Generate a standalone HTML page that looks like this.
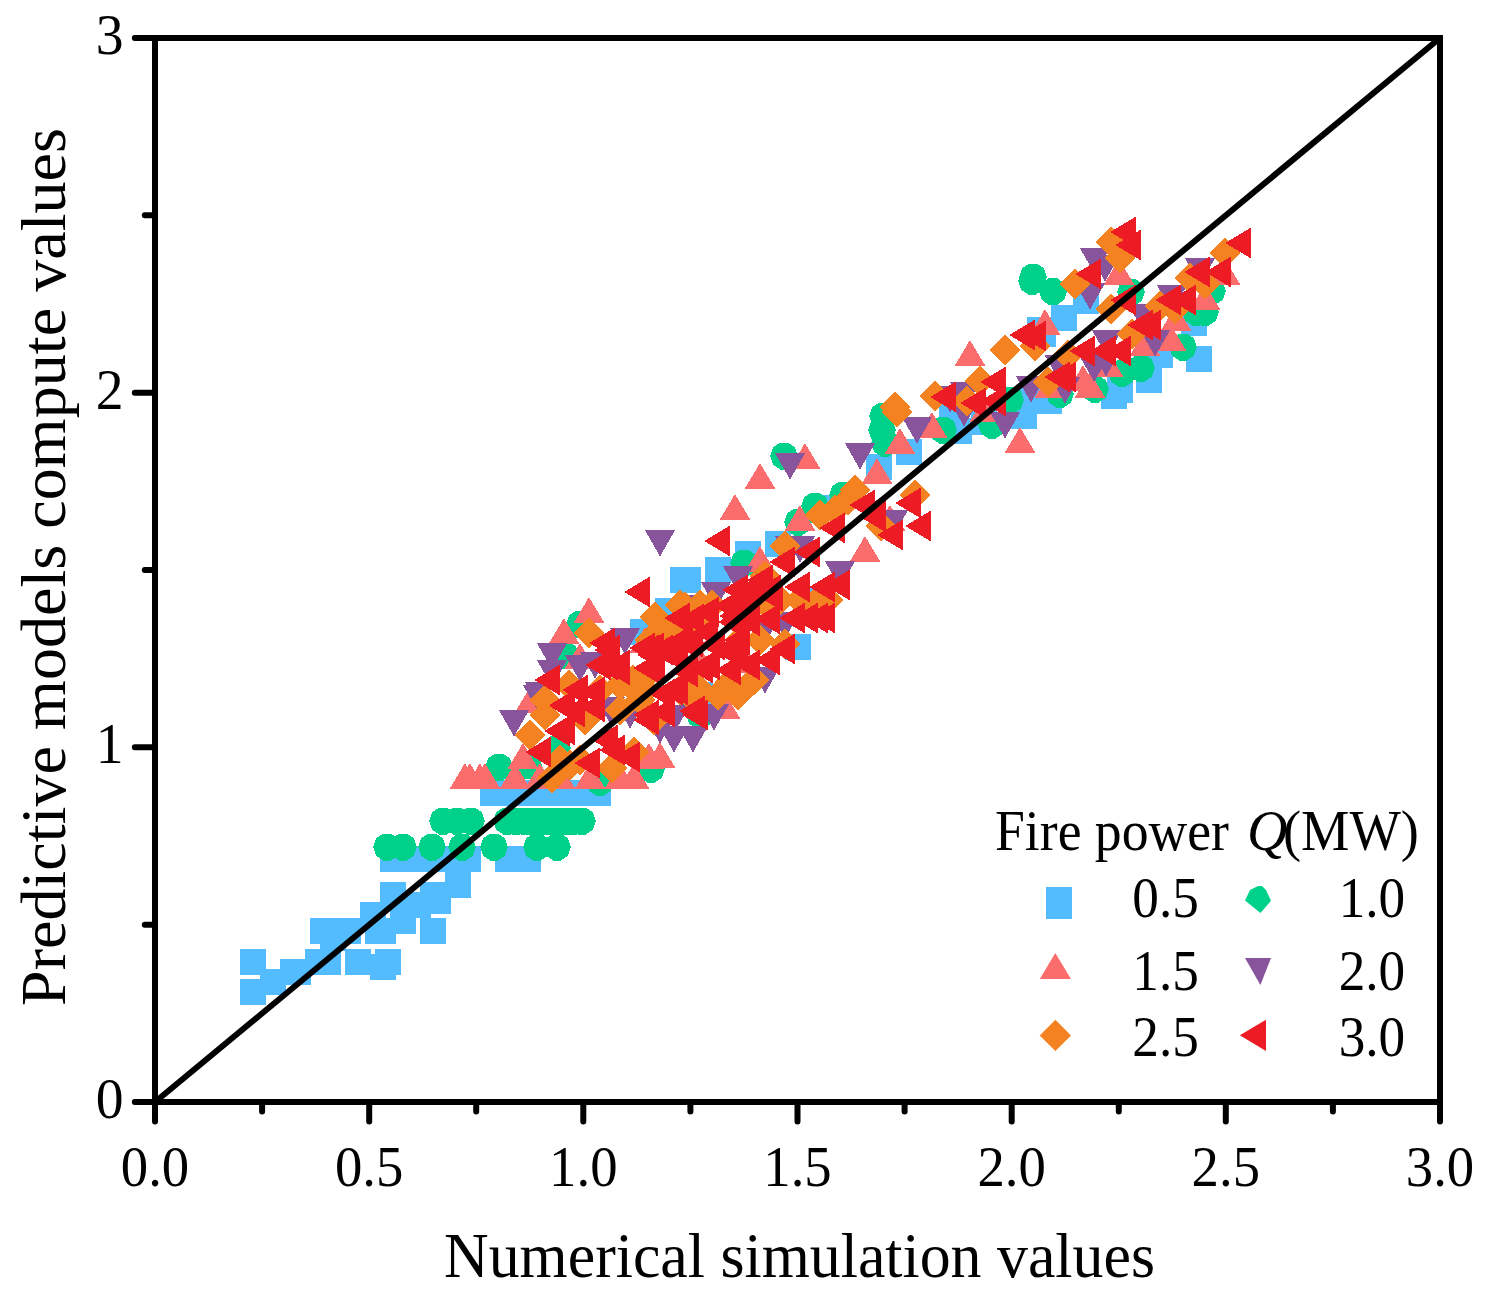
<!DOCTYPE html>
<html><head><meta charset="utf-8"><title>Chart</title>
<style>html,body{margin:0;padding:0;background:#fff;}svg{display:block;}
text{font-family:"Liberation Serif",serif;fill:#000;}</style></head>
<body><svg width="1492" height="1297" viewBox="0 0 1492 1297">
<rect width="1492" height="1297" fill="#fff"/>

<g fill="#52bcfe" shape-rendering="crispEdges">
<rect x="240.0" y="949.0" width="26" height="26"/>
<rect x="240.0" y="979.0" width="26" height="26"/>
<rect x="260.0" y="969.0" width="26" height="26"/>
<rect x="280.0" y="959.0" width="26" height="26"/>
<rect x="285.0" y="959.0" width="26" height="26"/>
<rect x="305.0" y="949.0" width="26" height="26"/>
<rect x="315.0" y="949.0" width="26" height="26"/>
<rect x="310.0" y="918.0" width="26" height="26"/>
<rect x="335.0" y="918.0" width="26" height="26"/>
<rect x="320.0" y="925.0" width="26" height="26"/>
<rect x="345.0" y="949.0" width="26" height="26"/>
<rect x="375.0" y="949.0" width="26" height="26"/>
<rect x="370.0" y="954.0" width="26" height="26"/>
<rect x="360.0" y="902.0" width="26" height="26"/>
<rect x="365.0" y="918.0" width="26" height="26"/>
<rect x="370.0" y="918.0" width="26" height="26"/>
<rect x="390.0" y="908.0" width="26" height="26"/>
<rect x="420.0" y="918.0" width="26" height="26"/>
<rect x="405.0" y="892.0" width="26" height="26"/>
<rect x="425.0" y="888.0" width="26" height="26"/>
<rect x="445.0" y="872.0" width="26" height="26"/>
<rect x="380.0" y="882.0" width="26" height="26"/>
<rect x="420.0" y="882.0" width="26" height="26"/>
<rect x="380.0" y="846.0" width="26" height="26"/>
<rect x="410.0" y="846.0" width="26" height="26"/>
<rect x="430.0" y="846.0" width="26" height="26"/>
<rect x="455.0" y="846.0" width="26" height="26"/>
<rect x="495.0" y="846.0" width="26" height="26"/>
<rect x="515.0" y="846.0" width="26" height="26"/>
<rect x="480.0" y="780.0" width="26" height="26"/>
<rect x="507.0" y="780.0" width="26" height="26"/>
<rect x="532.0" y="780.0" width="26" height="26"/>
<rect x="557.0" y="780.0" width="26" height="26"/>
<rect x="445.0" y="846.0" width="26" height="26"/>
<rect x="395.0" y="846.0" width="26" height="26"/>
<rect x="1073.0" y="288.0" width="26" height="26"/>
<rect x="1181.0" y="310.0" width="26" height="26"/>
<rect x="1186.0" y="346.0" width="26" height="26"/>
<rect x="1136.0" y="367.0" width="26" height="26"/>
<rect x="1147.0" y="342.0" width="26" height="26"/>
<rect x="1107.0" y="377.0" width="26" height="26"/>
<rect x="1051.0" y="305.0" width="26" height="26"/>
<rect x="1030.0" y="321.0" width="26" height="26"/>
<rect x="1027.0" y="317.0" width="26" height="26"/>
<rect x="1101.0" y="383.0" width="26" height="26"/>
<rect x="1016.0" y="388.0" width="26" height="26"/>
<rect x="1036.0" y="388.0" width="26" height="26"/>
<rect x="1011.0" y="403.0" width="26" height="26"/>
<rect x="939.0" y="392.0" width="26" height="26"/>
<rect x="946.0" y="418.0" width="26" height="26"/>
<rect x="971.0" y="409.0" width="26" height="26"/>
<rect x="896.0" y="439.0" width="26" height="26"/>
<rect x="866.0" y="454.0" width="26" height="26"/>
<rect x="735.0" y="541.0" width="26" height="26"/>
<rect x="765.0" y="531.0" width="26" height="26"/>
<rect x="705.0" y="557.0" width="26" height="26"/>
<rect x="670.0" y="567.0" width="26" height="26"/>
<rect x="675.0" y="567.0" width="26" height="26"/>
<rect x="810.0" y="495.0" width="26" height="26"/>
<rect x="799.0" y="597.0" width="26" height="26"/>
<rect x="785.0" y="634.0" width="26" height="26"/>
<rect x="809.0" y="587.0" width="26" height="26"/>
<rect x="687.0" y="682.0" width="26" height="26"/>
<rect x="655.0" y="598.0" width="26" height="26"/>
<rect x="630.0" y="619.0" width="26" height="26"/>
<rect x="572.0" y="780.0" width="26" height="26"/>
<rect x="585.0" y="780.0" width="26" height="26"/>
<rect x="493.0" y="780.0" width="26" height="26"/>
</g>
<g fill="#00d18a" shape-rendering="crispEdges">
<polygon points="383.0,833.5 391.0,833.5 398.0,838.5 401.0,847.0 398.0,855.5 391.0,860.5 383.0,860.5 376.0,855.5 373.0,847.0 376.0,838.5"/>
<polygon points="399.0,833.5 407.0,833.5 414.0,838.5 417.0,847.0 414.0,855.5 407.0,860.5 399.0,860.5 392.0,855.5 389.0,847.0 392.0,838.5"/>
<polygon points="428.0,833.5 436.0,833.5 443.0,838.5 446.0,847.0 443.0,855.5 436.0,860.5 428.0,860.5 421.0,855.5 418.0,847.0 421.0,838.5"/>
<polygon points="458.0,833.5 466.0,833.5 473.0,838.5 476.0,847.0 473.0,855.5 466.0,860.5 458.0,860.5 451.0,855.5 448.0,847.0 451.0,838.5"/>
<polygon points="490.0,833.5 498.0,833.5 505.0,838.5 508.0,847.0 505.0,855.5 498.0,860.5 490.0,860.5 483.0,855.5 480.0,847.0 483.0,838.5"/>
<polygon points="533.0,833.5 541.0,833.5 548.0,838.5 551.0,847.0 548.0,855.5 541.0,860.5 533.0,860.5 526.0,855.5 523.0,847.0 526.0,838.5"/>
<polygon points="553.0,833.5 561.0,833.5 568.0,838.5 571.0,847.0 568.0,855.5 561.0,860.5 553.0,860.5 546.0,855.5 543.0,847.0 546.0,838.5"/>
<polygon points="439.0,807.5 447.0,807.5 454.0,812.5 457.0,821.0 454.0,829.5 447.0,834.5 439.0,834.5 432.0,829.5 429.0,821.0 432.0,812.5"/>
<polygon points="467.0,807.5 475.0,807.5 482.0,812.5 485.0,821.0 482.0,829.5 475.0,834.5 467.0,834.5 460.0,829.5 457.0,821.0 460.0,812.5"/>
<polygon points="503.0,807.5 511.0,807.5 518.0,812.5 521.0,821.0 518.0,829.5 511.0,834.5 503.0,834.5 496.0,829.5 493.0,821.0 496.0,812.5"/>
<polygon points="521.0,807.5 529.0,807.5 536.0,812.5 539.0,821.0 536.0,829.5 529.0,834.5 521.0,834.5 514.0,829.5 511.0,821.0 514.0,812.5"/>
<polygon points="537.0,807.5 545.0,807.5 552.0,812.5 555.0,821.0 552.0,829.5 545.0,834.5 537.0,834.5 530.0,829.5 527.0,821.0 530.0,812.5"/>
<polygon points="553.0,807.5 561.0,807.5 568.0,812.5 571.0,821.0 568.0,829.5 561.0,834.5 553.0,834.5 546.0,829.5 543.0,821.0 546.0,812.5"/>
<polygon points="495.0,753.5 503.0,753.5 510.0,758.5 513.0,767.0 510.0,775.5 503.0,780.5 495.0,780.5 488.0,775.5 485.0,767.0 488.0,758.5"/>
<polygon points="524.0,751.5 532.0,751.5 539.0,756.5 542.0,765.0 539.0,773.5 532.0,778.5 524.0,778.5 517.0,773.5 514.0,765.0 517.0,756.5"/>
<polygon points="553.0,734.5 561.0,734.5 568.0,739.5 571.0,748.0 568.0,756.5 561.0,761.5 553.0,761.5 546.0,756.5 543.0,748.0 546.0,739.5"/>
<polygon points="453.0,807.5 461.0,807.5 468.0,812.5 471.0,821.0 468.0,829.5 461.0,834.5 453.0,834.5 446.0,829.5 443.0,821.0 446.0,812.5"/>
<polygon points="1127.0,278.5 1135.0,278.5 1142.0,283.5 1145.0,292.0 1142.0,300.5 1135.0,305.5 1127.0,305.5 1120.0,300.5 1117.0,292.0 1120.0,283.5"/>
<polygon points="1208.0,277.5 1216.0,277.5 1223.0,282.5 1226.0,291.0 1223.0,299.5 1216.0,304.5 1208.0,304.5 1201.0,299.5 1198.0,291.0 1201.0,282.5"/>
<polygon points="1192.0,298.5 1200.0,298.5 1207.0,303.5 1210.0,312.0 1207.0,320.5 1200.0,325.5 1192.0,325.5 1185.0,320.5 1182.0,312.0 1185.0,303.5"/>
<polygon points="1201.0,298.5 1209.0,298.5 1216.0,303.5 1219.0,312.0 1216.0,320.5 1209.0,325.5 1201.0,325.5 1194.0,320.5 1191.0,312.0 1194.0,303.5"/>
<polygon points="1179.0,333.5 1187.0,333.5 1194.0,338.5 1197.0,347.0 1194.0,355.5 1187.0,360.5 1179.0,360.5 1172.0,355.5 1169.0,347.0 1172.0,338.5"/>
<polygon points="1137.0,354.5 1145.0,354.5 1152.0,359.5 1155.0,368.0 1152.0,376.5 1145.0,381.5 1137.0,381.5 1130.0,376.5 1127.0,368.0 1130.0,359.5"/>
<polygon points="1029.0,263.5 1037.0,263.5 1044.0,268.5 1047.0,277.0 1044.0,285.5 1037.0,290.5 1029.0,290.5 1022.0,285.5 1019.0,277.0 1022.0,268.5"/>
<polygon points="1028.0,267.5 1036.0,267.5 1043.0,272.5 1046.0,281.0 1043.0,289.5 1036.0,294.5 1028.0,294.5 1021.0,289.5 1018.0,281.0 1021.0,272.5"/>
<polygon points="1049.0,278.0 1057.0,278.0 1064.0,283.0 1067.0,291.5 1064.0,300.0 1057.0,305.0 1049.0,305.0 1042.0,300.0 1039.0,291.5 1042.0,283.0"/>
<polygon points="1091.0,375.5 1099.0,375.5 1106.0,380.5 1109.0,389.0 1106.0,397.5 1099.0,402.5 1091.0,402.5 1084.0,397.5 1081.0,389.0 1084.0,380.5"/>
<polygon points="1056.0,380.5 1064.0,380.5 1071.0,385.5 1074.0,394.0 1071.0,402.5 1064.0,407.5 1056.0,407.5 1049.0,402.5 1046.0,394.0 1049.0,385.5"/>
<polygon points="1118.0,359.5 1126.0,359.5 1133.0,364.5 1136.0,373.0 1133.0,381.5 1126.0,386.5 1118.0,386.5 1111.0,381.5 1108.0,373.0 1111.0,364.5"/>
<polygon points="1006.0,386.5 1014.0,386.5 1021.0,391.5 1024.0,400.0 1021.0,408.5 1014.0,413.5 1006.0,413.5 999.0,408.5 996.0,400.0 999.0,391.5"/>
<polygon points="939.0,416.5 947.0,416.5 954.0,421.5 957.0,430.0 954.0,438.5 947.0,443.5 939.0,443.5 932.0,438.5 929.0,430.0 932.0,421.5"/>
<polygon points="988.0,411.5 996.0,411.5 1003.0,416.5 1006.0,425.0 1003.0,433.5 996.0,438.5 988.0,438.5 981.0,433.5 978.0,425.0 981.0,416.5"/>
<polygon points="879.0,402.5 887.0,402.5 894.0,407.5 897.0,416.0 894.0,424.5 887.0,429.5 879.0,429.5 872.0,424.5 869.0,416.0 872.0,407.5"/>
<polygon points="878.0,416.5 886.0,416.5 893.0,421.5 896.0,430.0 893.0,438.5 886.0,443.5 878.0,443.5 871.0,438.5 868.0,430.0 871.0,421.5"/>
<polygon points="881.0,429.5 889.0,429.5 896.0,434.5 899.0,443.0 896.0,451.5 889.0,456.5 881.0,456.5 874.0,451.5 871.0,443.0 874.0,434.5"/>
<polygon points="839.0,481.5 847.0,481.5 854.0,486.5 857.0,495.0 854.0,503.5 847.0,508.5 839.0,508.5 832.0,503.5 829.0,495.0 832.0,486.5"/>
<polygon points="780.0,442.5 788.0,442.5 795.0,447.5 798.0,456.0 795.0,464.5 788.0,469.5 780.0,469.5 773.0,464.5 770.0,456.0 773.0,447.5"/>
<polygon points="811.0,492.5 819.0,492.5 826.0,497.5 829.0,506.0 826.0,514.5 819.0,519.5 811.0,519.5 804.0,514.5 801.0,506.0 804.0,497.5"/>
<polygon points="794.0,508.5 802.0,508.5 809.0,513.5 812.0,522.0 809.0,530.5 802.0,535.5 794.0,535.5 787.0,530.5 784.0,522.0 787.0,513.5"/>
<polygon points="740.0,549.5 748.0,549.5 755.0,554.5 758.0,563.0 755.0,571.5 748.0,576.5 740.0,576.5 733.0,571.5 730.0,563.0 733.0,554.5"/>
<polygon points="691.0,686.5 699.0,686.5 706.0,691.5 709.0,700.0 706.0,708.5 699.0,713.5 691.0,713.5 684.0,708.5 681.0,700.0 684.0,691.5"/>
<polygon points="696.0,701.5 704.0,701.5 711.0,706.5 714.0,715.0 711.0,723.5 704.0,728.5 696.0,728.5 689.0,723.5 686.0,715.0 689.0,706.5"/>
<polygon points="576.0,610.5 584.0,610.5 591.0,615.5 594.0,624.0 591.0,632.5 584.0,637.5 576.0,637.5 569.0,632.5 566.0,624.0 569.0,615.5"/>
<polygon points="561.0,641.5 569.0,641.5 576.0,646.5 579.0,655.0 576.0,663.5 569.0,668.5 561.0,668.5 554.0,663.5 551.0,655.0 554.0,646.5"/>
<polygon points="569.0,807.5 577.0,807.5 584.0,812.5 587.0,821.0 584.0,829.5 577.0,834.5 569.0,834.5 562.0,829.5 559.0,821.0 562.0,812.5"/>
<polygon points="578.0,807.5 586.0,807.5 593.0,812.5 596.0,821.0 593.0,829.5 586.0,834.5 578.0,834.5 571.0,829.5 568.0,821.0 571.0,812.5"/>
<polygon points="647.0,755.5 655.0,755.5 662.0,760.5 665.0,769.0 662.0,777.5 655.0,782.5 647.0,782.5 640.0,777.5 637.0,769.0 640.0,760.5"/>
<polygon points="596.0,768.5 604.0,768.5 611.0,773.5 614.0,782.0 611.0,790.5 604.0,795.5 596.0,795.5 589.0,790.5 586.0,782.0 589.0,773.5"/>
<polygon points="512.0,807.5 520.0,807.5 527.0,812.5 530.0,821.0 527.0,829.5 520.0,834.5 512.0,834.5 505.0,829.5 502.0,821.0 505.0,812.5"/>
<polygon points="529.0,807.5 537.0,807.5 544.0,812.5 547.0,821.0 544.0,829.5 537.0,834.5 529.0,834.5 522.0,829.5 519.0,821.0 522.0,812.5"/>
<polygon points="545.0,807.5 553.0,807.5 560.0,812.5 563.0,821.0 560.0,829.5 553.0,834.5 545.0,834.5 538.0,829.5 535.0,821.0 538.0,812.5"/>
<polygon points="561.0,807.5 569.0,807.5 576.0,812.5 579.0,821.0 576.0,829.5 569.0,834.5 561.0,834.5 554.0,829.5 551.0,821.0 554.0,812.5"/>
</g>
<g fill="#fb6c6c" shape-rendering="crispEdges">
<polygon points="465.0,763.0 480.5,789.0 449.5,789.0"/>
<polygon points="470.0,763.0 485.5,789.0 454.5,789.0"/>
<polygon points="480.0,763.0 495.5,789.0 464.5,789.0"/>
<polygon points="485.0,763.0 500.5,789.0 469.5,789.0"/>
<polygon points="515.0,763.0 530.5,789.0 499.5,789.0"/>
<polygon points="523.0,743.0 538.5,769.0 507.5,769.0"/>
<polygon points="530.0,687.0 545.5,713.0 514.5,713.0"/>
<polygon points="1119.0,259.0 1134.5,285.0 1103.5,285.0"/>
<polygon points="1205.0,284.0 1220.5,310.0 1189.5,310.0"/>
<polygon points="1225.0,259.0 1240.5,285.0 1209.5,285.0"/>
<polygon points="1176.0,305.0 1191.5,331.0 1160.5,331.0"/>
<polygon points="1171.0,325.0 1186.5,351.0 1155.5,351.0"/>
<polygon points="1145.0,330.0 1160.5,356.0 1129.5,356.0"/>
<polygon points="1108.0,351.0 1123.5,377.0 1092.5,377.0"/>
<polygon points="1090.0,372.0 1105.5,398.0 1074.5,398.0"/>
<polygon points="1045.0,309.0 1060.5,335.0 1029.5,335.0"/>
<polygon points="970.0,340.0 985.5,366.0 954.5,366.0"/>
<polygon points="1083.0,365.0 1098.5,391.0 1067.5,391.0"/>
<polygon points="1020.0,427.0 1035.5,453.0 1004.5,453.0"/>
<polygon points="1050.0,372.0 1065.5,398.0 1034.5,398.0"/>
<polygon points="932.0,412.0 947.5,438.0 916.5,438.0"/>
<polygon points="985.0,396.0 1000.5,422.0 969.5,422.0"/>
<polygon points="900.0,428.0 915.5,454.0 884.5,454.0"/>
<polygon points="877.0,458.0 892.5,484.0 861.5,484.0"/>
<polygon points="890.0,505.0 905.5,531.0 874.5,531.0"/>
<polygon points="865.0,536.0 880.5,562.0 849.5,562.0"/>
<polygon points="805.0,443.0 820.5,469.0 789.5,469.0"/>
<polygon points="760.0,463.0 775.5,489.0 744.5,489.0"/>
<polygon points="735.0,494.0 750.5,520.0 719.5,520.0"/>
<polygon points="800.0,505.0 815.5,531.0 784.5,531.0"/>
<polygon points="760.0,546.0 775.5,572.0 744.5,572.0"/>
<polygon points="660.0,742.0 675.5,768.0 644.5,768.0"/>
<polygon points="725.0,693.0 740.5,719.0 709.5,719.0"/>
<polygon points="700.0,647.0 715.5,673.0 684.5,673.0"/>
<polygon points="745.0,647.0 760.5,673.0 729.5,673.0"/>
<polygon points="589.0,597.0 604.5,623.0 573.5,623.0"/>
<polygon points="564.0,618.0 579.5,644.0 548.5,644.0"/>
<polygon points="645.0,627.0 660.5,653.0 629.5,653.0"/>
<polygon points="580.0,643.0 595.5,669.0 564.5,669.0"/>
<polygon points="540.0,763.0 555.5,789.0 524.5,789.0"/>
<polygon points="560.0,763.0 575.5,789.0 544.5,789.0"/>
<polygon points="590.0,763.0 605.5,789.0 574.5,789.0"/>
<polygon points="620.0,763.0 635.5,789.0 604.5,789.0"/>
<polygon points="634.0,763.0 649.5,789.0 618.5,789.0"/>
<polygon points="649.0,743.0 664.5,769.0 633.5,769.0"/>
</g>
<g fill="#88549b" shape-rendering="crispEdges">
<polygon points="498.5,709.5 529.5,709.5 514.0,736.5"/>
<polygon points="524.5,681.5 555.5,681.5 540.0,708.5"/>
<polygon points="1079.5,247.5 1110.5,247.5 1095.0,274.5"/>
<polygon points="1089.5,254.5 1120.5,254.5 1105.0,281.5"/>
<polygon points="1074.5,282.5 1105.5,282.5 1090.0,309.5"/>
<polygon points="1184.5,257.5 1215.5,257.5 1200.0,284.5"/>
<polygon points="1156.5,284.5 1187.5,284.5 1172.0,311.5"/>
<polygon points="1127.5,303.5 1158.5,303.5 1143.0,330.5"/>
<polygon points="1091.5,329.5 1122.5,329.5 1107.0,356.5"/>
<polygon points="1139.5,329.5 1170.5,329.5 1155.0,356.5"/>
<polygon points="1079.5,353.5 1110.5,353.5 1095.0,380.5"/>
<polygon points="1090.5,349.5 1121.5,349.5 1106.0,376.5"/>
<polygon points="1015.5,375.5 1046.5,375.5 1031.0,402.5"/>
<polygon points="1044.5,355.0 1075.5,355.0 1060.0,382.0"/>
<polygon points="934.5,385.5 965.5,385.5 950.0,412.5"/>
<polygon points="989.5,411.5 1020.5,411.5 1005.0,438.5"/>
<polygon points="1049.5,376.5 1080.5,376.5 1065.0,403.5"/>
<polygon points="1078.5,354.5 1109.5,354.5 1094.0,381.5"/>
<polygon points="949.5,381.5 980.5,381.5 965.0,408.5"/>
<polygon points="948.5,399.5 979.5,399.5 964.0,426.5"/>
<polygon points="901.5,416.5 932.5,416.5 917.0,443.5"/>
<polygon points="844.5,442.5 875.5,442.5 860.0,469.5"/>
<polygon points="877.5,509.5 908.5,509.5 893.0,536.5"/>
<polygon points="774.5,452.5 805.5,452.5 790.0,479.5"/>
<polygon points="644.5,529.5 675.5,529.5 660.0,556.5"/>
<polygon points="774.5,535.5 805.5,535.5 790.0,562.5"/>
<polygon points="784.5,535.5 815.5,535.5 800.0,562.5"/>
<polygon points="722.5,565.5 753.5,565.5 738.0,592.5"/>
<polygon points="700.5,581.5 731.5,581.5 716.0,608.5"/>
<polygon points="824.5,560.5 855.5,560.5 840.0,587.5"/>
<polygon points="684.5,594.5 715.5,594.5 700.0,621.5"/>
<polygon points="658.5,725.5 689.5,725.5 674.0,752.5"/>
<polygon points="677.5,725.5 708.5,725.5 693.0,752.5"/>
<polygon points="698.5,703.5 729.5,703.5 714.0,730.5"/>
<polygon points="644.5,716.5 675.5,716.5 660.0,743.5"/>
<polygon points="749.5,616.5 780.5,616.5 765.0,643.5"/>
<polygon points="769.5,611.5 800.5,611.5 785.0,638.5"/>
<polygon points="749.5,666.5 780.5,666.5 765.0,693.5"/>
<polygon points="609.5,627.5 640.5,627.5 625.0,654.5"/>
<polygon points="536.5,642.5 567.5,642.5 552.0,669.5"/>
<polygon points="579.5,651.5 610.5,651.5 595.0,678.5"/>
<polygon points="564.5,654.5 595.5,654.5 580.0,681.5"/>
<polygon points="536.5,659.5 567.5,659.5 552.0,686.5"/>
<polygon points="522.5,684.5 553.5,684.5 538.0,711.5"/>
<polygon points="594.5,696.5 625.5,696.5 610.0,723.5"/>
<polygon points="614.5,701.5 645.5,701.5 630.0,728.5"/>
<polygon points="659.5,704.5 690.5,704.5 675.0,731.5"/>
</g>
<g fill="#f58220" shape-rendering="crispEdges">
<polygon points="530.0,719.5 545.5,735.0 530.0,750.5 514.5,735.0"/>
<polygon points="545.0,699.5 560.5,715.0 545.0,730.5 529.5,715.0"/>
<polygon points="552.0,762.5 567.5,778.0 552.0,793.5 536.5,778.0"/>
<polygon points="580.0,744.5 595.5,760.0 580.0,775.5 564.5,760.0"/>
<polygon points="1111.0,226.5 1126.5,242.0 1111.0,257.5 1095.5,242.0"/>
<polygon points="1120.0,242.5 1135.5,258.0 1120.0,273.5 1104.5,258.0"/>
<polygon points="1111.0,293.5 1126.5,309.0 1111.0,324.5 1095.5,309.0"/>
<polygon points="1132.0,318.5 1147.5,334.0 1132.0,349.5 1116.5,334.0"/>
<polygon points="1160.0,290.5 1175.5,306.0 1160.0,321.5 1144.5,306.0"/>
<polygon points="1175.0,293.5 1190.5,309.0 1175.0,324.5 1159.5,309.0"/>
<polygon points="1190.0,262.5 1205.5,278.0 1190.0,293.5 1174.5,278.0"/>
<polygon points="1205.0,268.5 1220.5,284.0 1205.0,299.5 1189.5,284.0"/>
<polygon points="1225.0,237.5 1240.5,253.0 1225.0,268.5 1209.5,253.0"/>
<polygon points="1075.0,268.5 1090.5,284.0 1075.0,299.5 1059.5,284.0"/>
<polygon points="1005.0,334.5 1020.5,350.0 1005.0,365.5 989.5,350.0"/>
<polygon points="1035.0,330.5 1050.5,346.0 1035.0,361.5 1019.5,346.0"/>
<polygon points="980.0,365.5 995.5,381.0 980.0,396.5 964.5,381.0"/>
<polygon points="1068.0,339.5 1083.5,355.0 1068.0,370.5 1052.5,355.0"/>
<polygon points="935.0,380.5 950.5,396.0 935.0,411.5 919.5,396.0"/>
<polygon points="1048.0,366.5 1063.5,382.0 1048.0,397.5 1032.5,382.0"/>
<polygon points="967.0,385.5 982.5,401.0 967.0,416.5 951.5,401.0"/>
<polygon points="895.0,391.5 910.5,407.0 895.0,422.5 879.5,407.0"/>
<polygon points="897.0,396.5 912.5,412.0 897.0,427.5 881.5,412.0"/>
<polygon points="855.0,474.5 870.5,490.0 855.0,505.5 839.5,490.0"/>
<polygon points="835.0,494.5 850.5,510.0 835.0,525.5 819.5,510.0"/>
<polygon points="915.0,479.5 930.5,495.0 915.0,510.5 899.5,495.0"/>
<polygon points="881.0,510.5 896.5,526.0 881.0,541.5 865.5,526.0"/>
<polygon points="848.0,484.5 863.5,500.0 848.0,515.5 832.5,500.0"/>
<polygon points="820.0,499.5 835.5,515.0 820.0,530.5 804.5,515.0"/>
<polygon points="785.0,530.5 800.5,546.0 785.0,561.5 769.5,546.0"/>
<polygon points="765.0,560.5 780.5,576.0 765.0,591.5 749.5,576.0"/>
<polygon points="685.0,591.5 700.5,607.0 685.0,622.5 669.5,607.0"/>
<polygon points="712.0,589.5 727.5,605.0 712.0,620.5 696.5,605.0"/>
<polygon points="817.0,592.5 832.5,608.0 817.0,623.5 801.5,608.0"/>
<polygon points="738.0,679.5 753.5,695.0 738.0,710.5 722.5,695.0"/>
<polygon points="754.0,664.5 769.5,680.0 754.0,695.5 738.5,680.0"/>
<polygon points="718.0,679.5 733.5,695.0 718.0,710.5 702.5,695.0"/>
<polygon points="700.0,674.5 715.5,690.0 700.0,705.5 684.5,690.0"/>
<polygon points="680.0,674.5 695.5,690.0 680.0,705.5 664.5,690.0"/>
<polygon points="785.0,628.5 800.5,644.0 785.0,659.5 769.5,644.0"/>
<polygon points="760.0,624.5 775.5,640.0 760.0,655.5 744.5,640.0"/>
<polygon points="740.0,624.5 755.5,640.0 740.0,655.5 724.5,640.0"/>
<polygon points="655.0,703.5 670.5,719.0 655.0,734.5 639.5,719.0"/>
<polygon points="680.0,589.5 695.5,605.0 680.0,620.5 664.5,605.0"/>
<polygon points="700.0,589.5 715.5,605.0 700.0,620.5 684.5,605.0"/>
<polygon points="800.0,584.5 815.5,600.0 800.0,615.5 784.5,600.0"/>
<polygon points="818.0,584.5 833.5,600.0 818.0,615.5 802.5,600.0"/>
<polygon points="828.0,584.5 843.5,600.0 828.0,615.5 812.5,600.0"/>
<polygon points="765.0,587.5 780.5,603.0 765.0,618.5 749.5,603.0"/>
<polygon points="780.0,584.5 795.5,600.0 780.0,615.5 764.5,600.0"/>
<polygon points="695.0,606.5 710.5,622.0 695.0,637.5 679.5,622.0"/>
<polygon points="730.0,666.5 745.5,682.0 730.0,697.5 714.5,682.0"/>
<polygon points="655.0,601.5 670.5,617.0 655.0,632.5 639.5,617.0"/>
<polygon points="589.0,617.5 604.5,633.0 589.0,648.5 573.5,633.0"/>
<polygon points="650.0,624.5 665.5,640.0 650.0,655.5 634.5,640.0"/>
<polygon points="585.0,704.5 600.5,720.0 585.0,735.5 569.5,720.0"/>
<polygon points="545.0,684.5 560.5,700.0 545.0,715.5 529.5,700.0"/>
<polygon points="569.0,669.5 584.5,685.0 569.0,700.5 553.5,685.0"/>
<polygon points="633.0,664.5 648.5,680.0 633.0,695.5 617.5,680.0"/>
<polygon points="654.0,704.5 669.5,720.0 654.0,735.5 638.5,720.0"/>
<polygon points="634.0,736.5 649.5,752.0 634.0,767.5 618.5,752.0"/>
<polygon points="560.0,744.5 575.5,760.0 560.0,775.5 544.5,760.0"/>
<polygon points="620.0,669.5 635.5,685.0 620.0,700.5 604.5,685.0"/>
<polygon points="570.0,749.5 585.5,765.0 570.0,780.5 554.5,765.0"/>
<polygon points="612.0,752.5 627.5,768.0 612.0,783.5 596.5,768.0"/>
<polygon points="630.0,669.5 645.5,685.0 630.0,700.5 614.5,685.0"/>
<polygon points="645.0,674.5 660.5,690.0 645.0,705.5 629.5,690.0"/>
<polygon points="640.0,684.5 655.5,700.0 640.0,715.5 624.5,700.0"/>
<polygon points="600.0,674.5 615.5,690.0 600.0,705.5 584.5,690.0"/>
<polygon points="620.0,694.5 635.5,710.0 620.0,725.5 604.5,710.0"/>
<polygon points="690.0,664.5 705.5,680.0 690.0,695.5 674.5,680.0"/>
<polygon points="695.0,684.5 710.5,700.0 695.0,715.5 679.5,700.0"/>
<polygon points="675.0,616.5 690.5,632.0 675.0,647.5 659.5,632.0"/>
<polygon points="662.0,612.5 677.5,628.0 662.0,643.5 646.5,628.0"/>
<polygon points="650.0,656.5 665.5,672.0 650.0,687.5 634.5,672.0"/>
</g>
<g fill="#ed1c24" shape-rendering="crispEdges">
<polygon points="525.0,752.0 551.0,736.5 551.0,767.5"/>
<polygon points="544.0,731.0 570.0,715.5 570.0,746.5"/>
<polygon points="549.0,705.0 575.0,689.5 575.0,720.5"/>
<polygon points="574.0,763.0 600.0,747.5 600.0,778.5"/>
<polygon points="1110.0,232.0 1136.0,216.5 1136.0,247.5"/>
<polygon points="1115.0,245.0 1141.0,229.5 1141.0,260.5"/>
<polygon points="1075.0,274.0 1101.0,258.5 1101.0,289.5"/>
<polygon points="1110.0,300.0 1136.0,284.5 1136.0,315.5"/>
<polygon points="1135.0,325.0 1161.0,309.5 1161.0,340.5"/>
<polygon points="1127.0,325.0 1153.0,309.5 1153.0,340.5"/>
<polygon points="1155.0,300.0 1181.0,284.5 1181.0,315.5"/>
<polygon points="1170.0,300.0 1196.0,284.5 1196.0,315.5"/>
<polygon points="1184.0,272.0 1210.0,256.5 1210.0,287.5"/>
<polygon points="1205.0,272.0 1231.0,256.5 1231.0,287.5"/>
<polygon points="1225.0,243.0 1251.0,227.5 1251.0,258.5"/>
<polygon points="1069.0,351.0 1095.0,335.5 1095.0,366.5"/>
<polygon points="1090.0,351.0 1116.0,335.5 1116.0,366.5"/>
<polygon points="1105.0,351.0 1131.0,335.5 1131.0,366.5"/>
<polygon points="1009.0,335.0 1035.0,319.5 1035.0,350.5"/>
<polygon points="1020.0,336.0 1046.0,320.5 1046.0,351.5"/>
<polygon points="980.0,382.0 1006.0,366.5 1006.0,397.5"/>
<polygon points="1044.0,377.0 1070.0,361.5 1070.0,392.5"/>
<polygon points="1050.0,377.0 1076.0,361.5 1076.0,392.5"/>
<polygon points="930.0,397.0 956.0,381.5 956.0,412.5"/>
<polygon points="980.0,401.0 1006.0,385.5 1006.0,416.5"/>
<polygon points="960.0,403.0 986.0,387.5 986.0,418.5"/>
<polygon points="849.0,505.0 875.0,489.5 875.0,520.5"/>
<polygon points="860.0,510.0 886.0,494.5 886.0,525.5"/>
<polygon points="860.0,517.0 886.0,501.5 886.0,532.5"/>
<polygon points="895.0,503.0 921.0,487.5 921.0,518.5"/>
<polygon points="905.0,526.0 931.0,510.5 931.0,541.5"/>
<polygon points="819.0,528.0 845.0,512.5 845.0,543.5"/>
<polygon points="877.0,535.0 903.0,519.5 903.0,550.5"/>
<polygon points="704.0,541.0 730.0,525.5 730.0,556.5"/>
<polygon points="769.0,562.0 795.0,546.5 795.0,577.5"/>
<polygon points="794.0,552.0 820.0,536.5 820.0,567.5"/>
<polygon points="722.0,590.0 748.0,574.5 748.0,605.5"/>
<polygon points="747.0,580.0 773.0,564.5 773.0,595.5"/>
<polygon points="755.0,590.0 781.0,574.5 781.0,605.5"/>
<polygon points="784.0,587.0 810.0,571.5 810.0,602.5"/>
<polygon points="809.0,587.0 835.0,571.5 835.0,602.5"/>
<polygon points="824.0,585.0 850.0,569.5 850.0,600.5"/>
<polygon points="664.0,618.0 690.0,602.5 690.0,633.5"/>
<polygon points="719.0,616.0 745.0,600.5 745.0,631.5"/>
<polygon points="734.0,621.0 760.0,605.5 760.0,636.5"/>
<polygon points="754.0,619.0 780.0,603.5 780.0,634.5"/>
<polygon points="779.0,618.0 805.0,602.5 805.0,633.5"/>
<polygon points="792.0,618.0 818.0,602.5 818.0,633.5"/>
<polygon points="802.0,618.0 828.0,602.5 828.0,633.5"/>
<polygon points="809.0,618.0 835.0,602.5 835.0,633.5"/>
<polygon points="694.0,665.0 720.0,649.5 720.0,680.5"/>
<polygon points="734.0,665.0 760.0,649.5 760.0,680.5"/>
<polygon points="754.0,660.0 780.0,644.5 780.0,675.5"/>
<polygon points="769.0,649.0 795.0,633.5 795.0,664.5"/>
<polygon points="724.0,640.0 750.0,624.5 750.0,655.5"/>
<polygon points="657.0,650.0 683.0,634.5 683.0,665.5"/>
<polygon points="667.0,640.0 693.0,624.5 693.0,655.5"/>
<polygon points="649.0,694.0 675.0,678.5 675.0,709.5"/>
<polygon points="679.0,711.0 705.0,695.5 705.0,726.5"/>
<polygon points="715.0,607.0 741.0,591.5 741.0,622.5"/>
<polygon points="735.0,590.0 761.0,574.5 761.0,605.5"/>
<polygon points="757.0,596.0 783.0,580.5 783.0,611.5"/>
<polygon points="692.0,632.0 718.0,616.5 718.0,647.5"/>
<polygon points="699.0,645.0 725.0,629.5 725.0,660.5"/>
<polygon points="677.0,642.0 703.0,626.5 703.0,657.5"/>
<polygon points="712.0,650.0 738.0,634.5 738.0,665.5"/>
<polygon points="722.0,655.0 748.0,639.5 748.0,670.5"/>
<polygon points="687.0,668.0 713.0,652.5 713.0,683.5"/>
<polygon points="672.0,672.0 698.0,656.5 698.0,687.5"/>
<polygon points="732.0,605.0 758.0,589.5 758.0,620.5"/>
<polygon points="715.0,670.0 741.0,654.5 741.0,685.5"/>
<polygon points="678.0,619.0 704.0,603.5 704.0,634.5"/>
<polygon points="693.0,612.0 719.0,596.5 719.0,627.5"/>
<polygon points="718.0,603.0 744.0,587.5 744.0,618.5"/>
<polygon points="718.0,622.0 744.0,606.5 744.0,637.5"/>
<polygon points="624.0,592.0 650.0,576.5 650.0,607.5"/>
<polygon points="589.0,643.0 615.0,627.5 615.0,658.5"/>
<polygon points="594.0,650.0 620.0,634.5 620.0,665.5"/>
<polygon points="629.0,648.0 655.0,632.5 655.0,663.5"/>
<polygon points="647.0,650.0 673.0,634.5 673.0,665.5"/>
<polygon points="662.0,650.0 688.0,634.5 688.0,665.5"/>
<polygon points="534.0,680.0 560.0,664.5 560.0,695.5"/>
<polygon points="549.0,706.0 575.0,690.5 575.0,721.5"/>
<polygon points="549.0,730.0 575.0,714.5 575.0,745.5"/>
<polygon points="579.0,692.0 605.0,676.5 605.0,707.5"/>
<polygon points="599.0,750.0 625.0,734.5 625.0,765.5"/>
<polygon points="614.0,757.0 640.0,741.5 640.0,772.5"/>
<polygon points="633.0,720.0 659.0,704.5 659.0,735.5"/>
<polygon points="657.0,690.0 683.0,674.5 683.0,705.5"/>
<polygon points="604.0,670.0 630.0,654.5 630.0,685.5"/>
<polygon points="592.0,665.0 618.0,649.5 618.0,680.5"/>
<polygon points="637.0,655.0 663.0,639.5 663.0,670.5"/>
<polygon points="657.0,655.0 683.0,639.5 683.0,670.5"/>
<polygon points="662.0,690.0 688.0,674.5 688.0,705.5"/>
<polygon points="592.0,740.0 618.0,724.5 618.0,755.5"/>
<polygon points="559.0,712.0 585.0,696.5 585.0,727.5"/>
<polygon points="633.0,650.0 659.0,634.5 659.0,665.5"/>
<polygon points="638.0,648.0 664.0,632.5 664.0,663.5"/>
<polygon points="585.0,665.0 611.0,649.5 611.0,680.5"/>
<polygon points="604.0,665.0 630.0,649.5 630.0,680.5"/>
<polygon points="579.0,707.0 605.0,691.5 605.0,722.5"/>
<polygon points="562.0,690.0 588.0,674.5 588.0,705.5"/>
<polygon points="633.0,715.0 659.0,699.5 659.0,730.5"/>
<polygon points="649.0,712.0 675.0,696.5 675.0,727.5"/>
<polygon points="649.0,694.0 675.0,678.5 675.0,709.5"/>
<polygon points="682.0,715.0 708.0,699.5 708.0,730.5"/>
<polygon points="633.0,668.0 659.0,652.5 659.0,683.5"/>
<polygon points="639.0,668.0 665.0,652.5 665.0,683.5"/>
</g>
<line x1="155.0" y1="1102.0" x2="1440.0" y2="38.0" stroke="#000" stroke-width="6"/>
<rect x="155.0" y="38.0" width="1285.0" height="1064.0" fill="none" stroke="#000" stroke-width="6"/>
<path d="M155.0,1102.0 V1121.4 M262.1,1102.0 V1111.4 M369.2,1102.0 V1121.4 M476.2,1102.0 V1111.4 M583.3,1102.0 V1121.4 M690.4,1102.0 V1111.4 M797.5,1102.0 V1121.4 M904.6,1102.0 V1111.4 M1011.7,1102.0 V1121.4 M1118.8,1102.0 V1111.4 M1225.8,1102.0 V1121.4 M1332.9,1102.0 V1111.4 M1440.0,1102.0 V1121.4 M155.0,1102.0 H134.8 M155.0,924.7 H144.8 M155.0,747.3 H134.8 M155.0,570.0 H144.8 M155.0,392.7 H134.8 M155.0,215.3 H144.8 M155.0,38.0 H134.8" stroke="#000" stroke-width="6" stroke-linecap="round" fill="none"/>
<text x="155.0" y="1185.5" font-size="58" text-anchor="middle" textLength="68.4" lengthAdjust="spacingAndGlyphs">0.0</text>
<text x="369.2" y="1185.5" font-size="58" text-anchor="middle" textLength="68.4" lengthAdjust="spacingAndGlyphs">0.5</text>
<text x="583.3" y="1185.5" font-size="58" text-anchor="middle" textLength="68.4" lengthAdjust="spacingAndGlyphs">1.0</text>
<text x="797.5" y="1185.5" font-size="58" text-anchor="middle" textLength="68.4" lengthAdjust="spacingAndGlyphs">1.5</text>
<text x="1011.7" y="1185.5" font-size="58" text-anchor="middle" textLength="68.4" lengthAdjust="spacingAndGlyphs">2.0</text>
<text x="1225.8" y="1185.5" font-size="58" text-anchor="middle" textLength="68.4" lengthAdjust="spacingAndGlyphs">2.5</text>
<text x="1440.0" y="1185.5" font-size="58" text-anchor="middle" textLength="68.4" lengthAdjust="spacingAndGlyphs">3.0</text>
<text x="123.5" y="1118.0" font-size="58" text-anchor="end" textLength="27.8" lengthAdjust="spacingAndGlyphs">0</text>
<text x="123.5" y="763.3" font-size="58" text-anchor="end" textLength="27.8" lengthAdjust="spacingAndGlyphs">1</text>
<text x="123.5" y="408.7" font-size="58" text-anchor="end" textLength="27.8" lengthAdjust="spacingAndGlyphs">2</text>
<text x="123.5" y="54.0" font-size="58" text-anchor="end" textLength="27.8" lengthAdjust="spacingAndGlyphs">3</text>
<text x="444" y="1277" font-size="63" textLength="711" lengthAdjust="spacingAndGlyphs">Numerical simulation values</text>
<text transform="translate(65,1006) rotate(-90)" x="0" y="0" font-size="63" textLength="878" lengthAdjust="spacingAndGlyphs">Predictive models compute values</text>
<text x="995" y="850" font-size="56"><tspan textLength="234" lengthAdjust="spacingAndGlyphs">Fire power</tspan><tspan x="1247" font-style="italic">Q</tspan><tspan x="1283" textLength="136" lengthAdjust="spacingAndGlyphs">(MW)</tspan></text>
<rect x="1046" y="887" width="26" height="32" fill="#52bcfe"/>
<polygon fill="#00d18a" points="1258,886 1262,886 1266,890 1271,900.7 1260.5,913 1245,900.6 1250,890"/>
<polygon fill="#fb6c6c" points="1055.3,953 1071,979 1039.8,979"/>
<polygon fill="#88549b" points="1245,958 1271,958 1260.4,985"/>
<polygon fill="#f58220" points="1055.4,1019.7 1071,1035.4 1055.4,1051 1039.7,1035.4"/>
<polygon fill="#ed1c24" points="1239.8,1035.2 1266,1019.7 1266,1051"/>
<text x="1198.8" y="917.2" font-size="58" text-anchor="end" textLength="66.5" lengthAdjust="spacingAndGlyphs">0.5</text>
<text x="1405.2" y="917.2" font-size="58" text-anchor="end" textLength="66.5" lengthAdjust="spacingAndGlyphs">1.0</text>
<text x="1198.8" y="989.8" font-size="58" text-anchor="end" textLength="66.5" lengthAdjust="spacingAndGlyphs">1.5</text>
<text x="1405.2" y="989.8" font-size="58" text-anchor="end" textLength="66.5" lengthAdjust="spacingAndGlyphs">2.0</text>
<text x="1198.8" y="1055.8" font-size="58" text-anchor="end" textLength="66.5" lengthAdjust="spacingAndGlyphs">2.5</text>
<text x="1405.2" y="1055.8" font-size="58" text-anchor="end" textLength="66.5" lengthAdjust="spacingAndGlyphs">3.0</text>
</svg></body></html>
